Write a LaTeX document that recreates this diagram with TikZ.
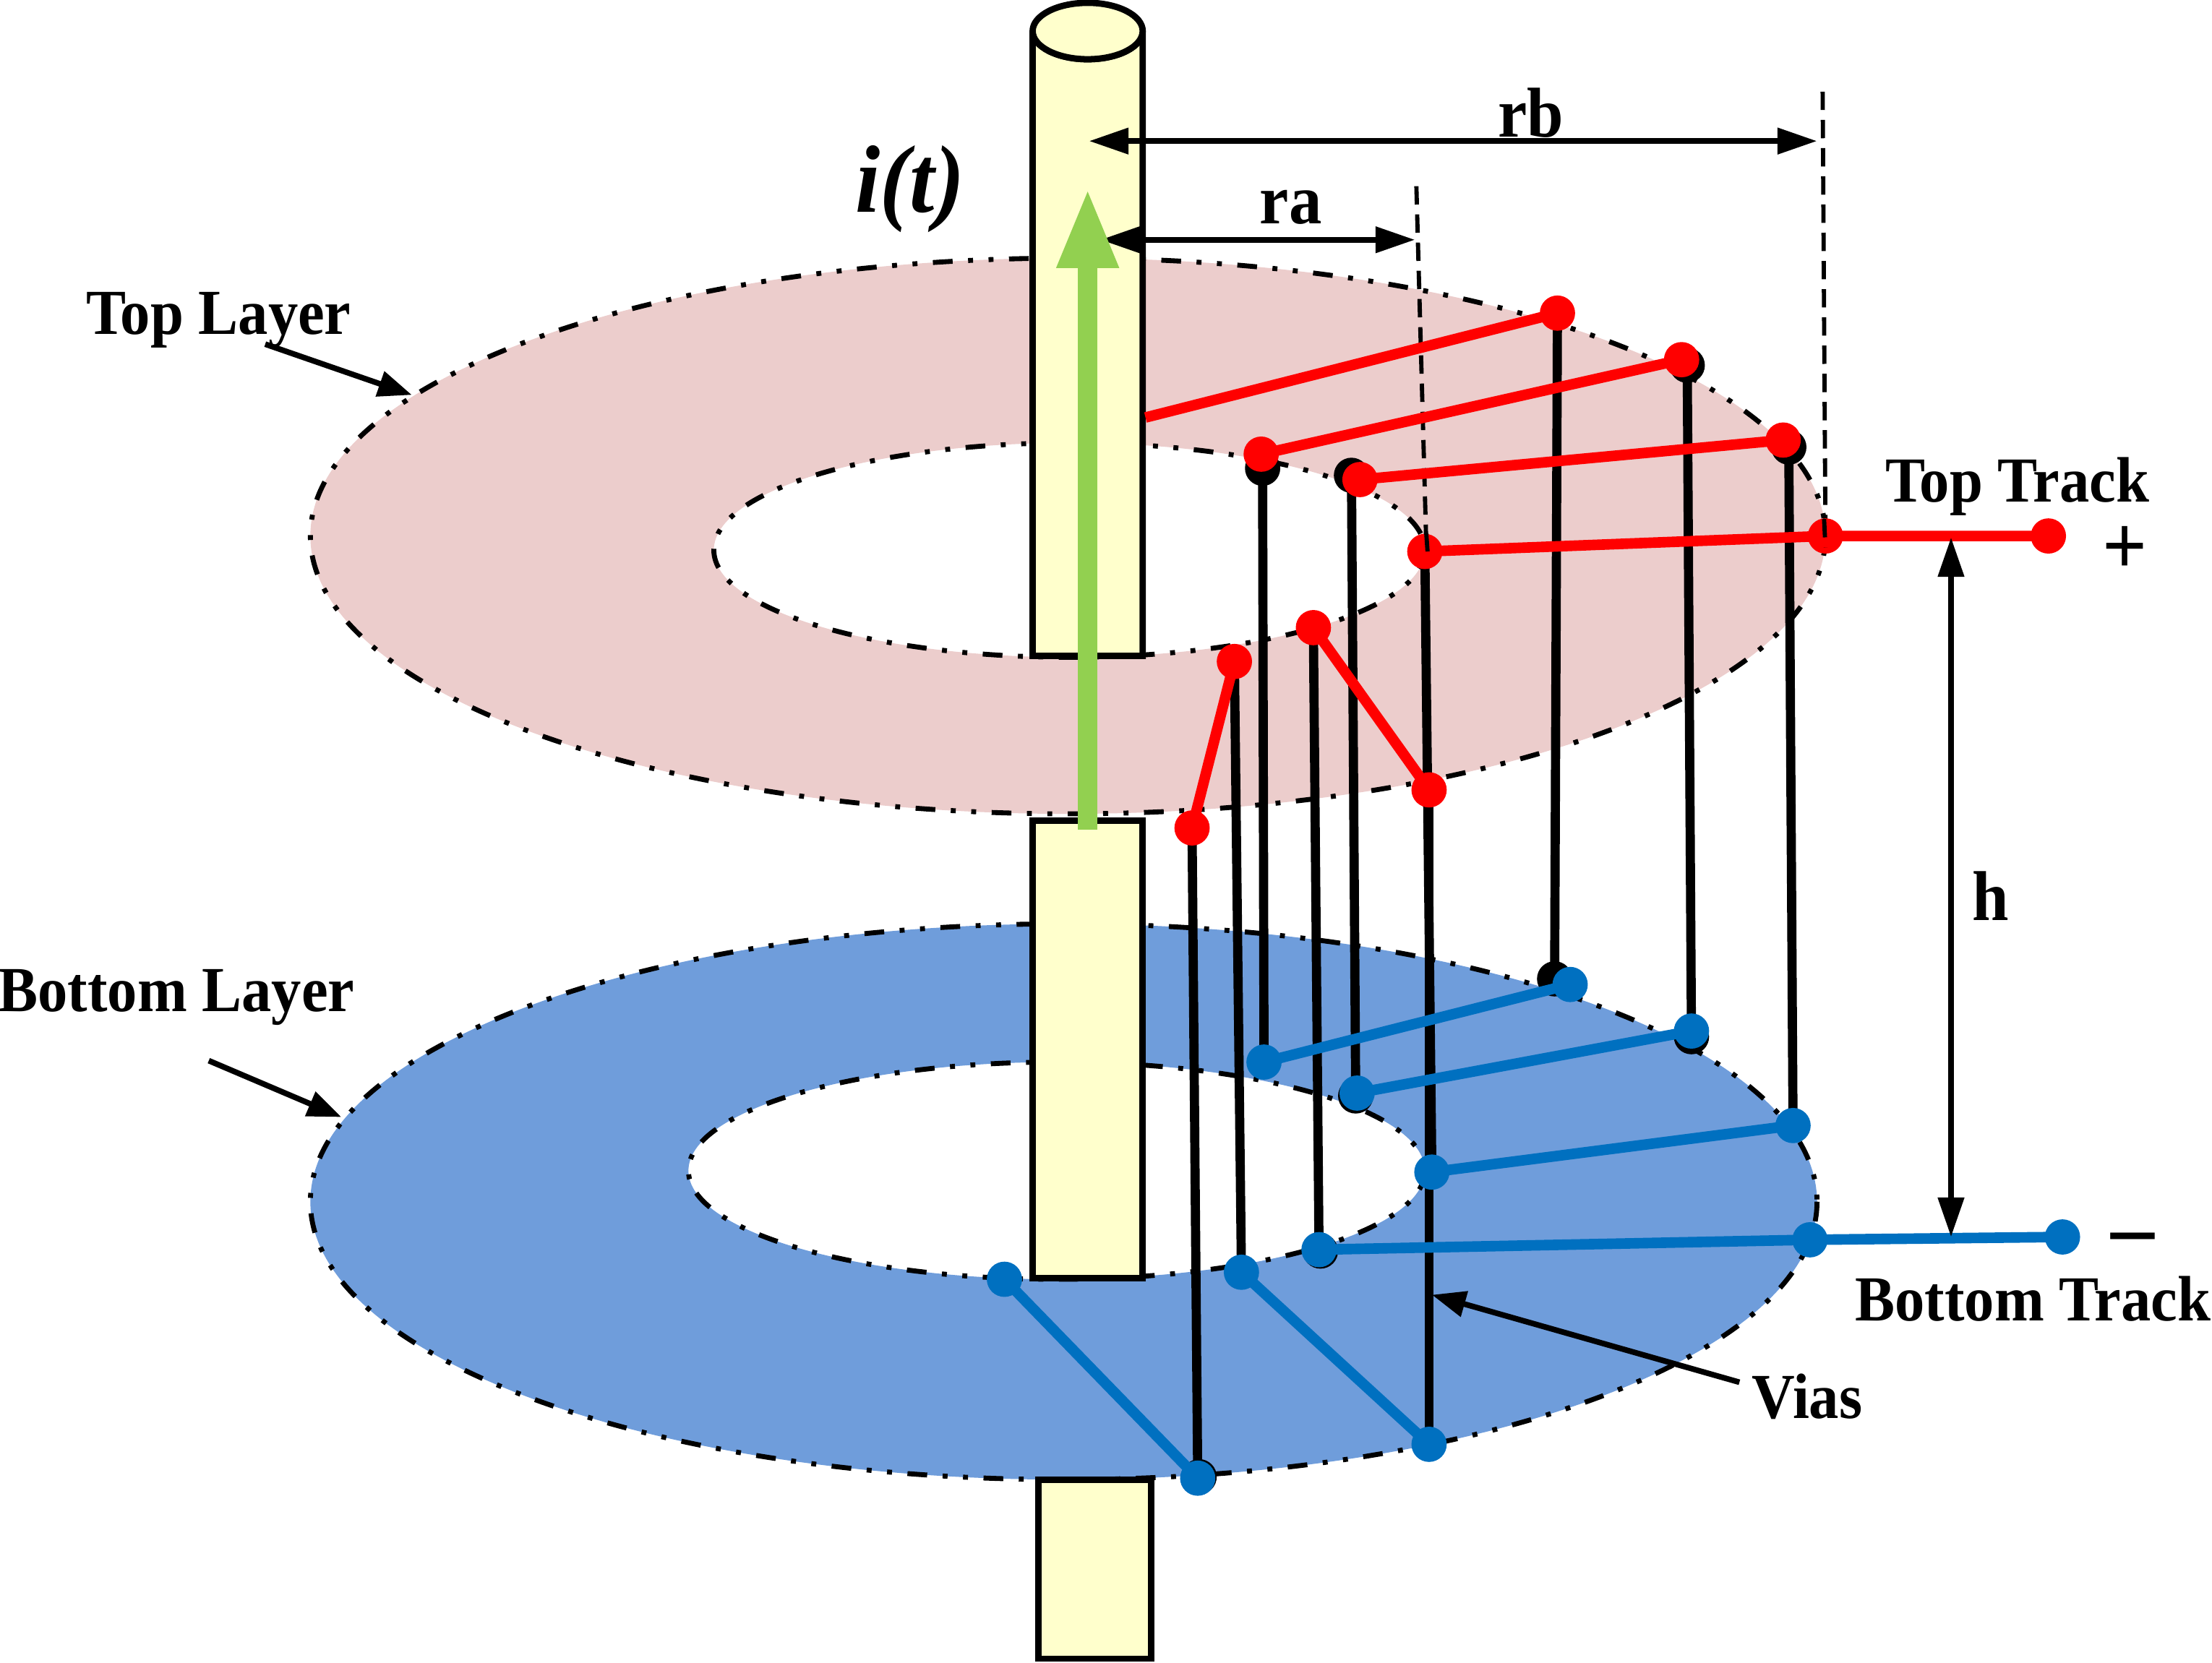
\documentclass[tikz,border=0pt]{standalone}
\usepackage{fontspec}
\setmainfont{Liberation Serif}[FakeStretch=0.93]
\usetikzlibrary{arrows.meta}
\definecolor{ringtop}{HTML}{ECCDCC}
\definecolor{ringbot}{HTML}{6F9DDB}
\definecolor{rod}{HTML}{FFFFCC}
\definecolor{trackblue}{HTML}{0070C0}
\definecolor{currentgreen}{HTML}{92D050}
\tikzset{
  ringline/.style={draw=black,line width=3.5pt,dash pattern=on 14pt off 11pt on 3.5pt off 11pt on 3.5pt off 11pt},
  rodbody/.style={draw=black,fill=rod,line width=4.5pt,line join=miter},
  via/.style={draw=black,line width=6.5pt},
  redtrack/.style={draw=red,line width=7.5pt},
  bluetrack/.style={draw=trackblue,line width=7.5pt},
  blackdot/.style={circle,fill=black,minimum size=25pt,inner sep=0pt},
  reddot/.style={circle,fill=red,minimum size=25pt,inner sep=0pt},
  bluedot/.style={circle,fill=trackblue,minimum size=25pt,inner sep=0pt},
  dim/.style={draw=black,line width=4pt,{Triangle[length=28pt,width=18pt]}-{Triangle[length=28pt,width=18pt]}},
  leader/.style={draw=black,line width=4pt,-{Triangle[length=24pt,width=18pt]}},
  guide/.style={draw=black,line width=3pt,dash pattern=on 13pt off 7pt},
  lab/.style={font=\fontsize{45.5}{50}\selectfont\bfseries,inner sep=0pt},
}
\begin{document}
\begin{tikzpicture}[x=1pt,y=-1pt]
\useasboundingbox (0,0) rectangle (1568,1178.6);
% top-layer track points
\coordinate (T1) at (1104,222);
\coordinate (T1s) at (812,296);
\coordinate (T2a) at (894,322);
\coordinate (T2b) at (1192,255);
\coordinate (T3a) at (964,340);
\coordinate (T3b) at (1264,312);
\coordinate (T4a) at (1010,391);
\coordinate (T4b) at (1294,380);
\coordinate (Tend) at (1452,380);
\coordinate (T5a) at (875,469);
\coordinate (T5b) at (845,587);
\coordinate (T6a) at (931,445);
\coordinate (T6b) at (1013,560);
% black via heads
\coordinate (K2a) at (895,332);
\coordinate (K2b) at (1196,259);
\coordinate (K3a) at (958,337);
\coordinate (K3b) at (1268,317);
\coordinate (K1b) at (1102,694);
\coordinate (K4) at (1199,735);
\coordinate (K5) at (961,777);
% bottom-layer track points
\coordinate (B1a) at (896,753);
\coordinate (B1b) at (1113,698);
\coordinate (B2a) at (962,775);
\coordinate (B2b) at (1199,731);
\coordinate (B3a) at (1015,831);
\coordinate (B3b) at (1271,798);
\coordinate (B4a) at (935,886);
\coordinate (B4b) at (1283,879);
\coordinate (Bend) at (1462,877);
\coordinate (B5a) at (712,907);
\coordinate (B5b) at (849,1048);
\coordinate (B6a) at (880,902);
\coordinate (B6b) at (1013,1024);
% top ring
\fill[ringtop,even odd rule] (757,380) ellipse [x radius=537,y radius=197] (758,390) ellipse [x radius=252,y radius=76];
\path[ringline] (757,380) ellipse [x radius=537,y radius=197];
\path[ringline] (758,390) ellipse [x radius=252,y radius=76];
% upper rod
\draw[rodbody] (732,22) -- (732,465) -- (810,465) -- (810,22) arc [start angle=0,end angle=-180,x radius=39,y radius=-20] -- cycle;
\draw[rodbody] (771,22) ellipse [x radius=39,y radius=20];
% bottom ring
\fill[ringbot,even odd rule] (754,852) ellipse [x radius=534,y radius=197] (749,830) ellipse [x radius=261,y radius=77];
\path[ringline] (754,852) ellipse [x radius=534,y radius=197];
\path[ringline] (749,830) ellipse [x radius=261,y radius=77];
% lower rods
\draw[rodbody] (732,582) rectangle (810,906);
\draw[rodbody] (736,1049) rectangle (816,1176);
% dimension guides and arrows
\coordinate (GAtop) at (1004,132);
\coordinate (GBtop) at (1292,65);
\path[guide] (GAtop) -- (1011,385);
\path[guide] (GBtop) -- (1294,380);
\coordinate (RAl) at (780,170);
\coordinate (RAr) at (1003,170);
\coordinate (RBl) at (772,100);
\coordinate (RBr) at (1288,100);
\path[dim] (RAl) -- (RAr);
\path[dim] (RBl) -- (RBr);
% current arrow
\coordinate (Cb) at (771,588);
\coordinate (Ct) at (771,133);
\path[draw=currentgreen,line width=14pt,-{Triangle[length=57pt,width=40pt,fill=currentgreen]}] (Cb) -- (Ct);
% vias
\path[via] (T1) -- (K1b);
\path[via] (K2b) -- (K4);
\path[via] (K3b) -- (1271,798);
\path[via] (K2a) -- (B1a);
\path[via] (K3a) -- (K5);
\path[via] (T4a) -- (B3a);
\path[via] (T6b) -- (B6b);
\path[via] (T5a) -- (B6a);
\path[via] (T6a) -- (B4a);
\path[via] (T5b) -- (B5b);
\foreach \n in {K2a,K2b,K3a,K3b,K1b,K4,K5} \node[blackdot] (dot\n) at (\n) {};
\node[blackdot] (dotB5b) at (850,1047) {};
\node[blackdot] (dotB4a) at (936,887) {};
% top tracks
\path[redtrack] (T1s) -- (T1);
\path[redtrack] (T2a) -- (T2b);
\path[redtrack] (T3a) -- (T3b);
\path[redtrack] (T4a) -- (T4b) -- (Tend);
\path[redtrack] (T5a) -- (T5b);
\path[redtrack] (T6a) -- (T6b);
\foreach \n in {T1,T2a,T2b,T3a,T3b,T4a,T4b,Tend,T5a,T5b,T6a,T6b} \node[reddot] (dot\n) at (\n) {};
\path[guide] (1293,368) -- (1294,388);
\path[guide] (1011,378) -- (1012,392);
% bottom tracks
\path[bluetrack] (B1a) -- (B1b);
\path[bluetrack] (B2a) -- (B2b);
\path[bluetrack] (B3a) -- (B3b);
\path[bluetrack] (B4a) -- (B4b) -- (Bend);
\path[bluetrack] (B5a) -- (B5b);
\path[bluetrack] (B6a) -- (B6b);
\foreach \n in {B1a,B1b,B2a,B2b,B3a,B3b,B4a,B4b,Bend,B5a,B5b,B6a,B6b} \node[bluedot] (dot\n) at (\n) {};
% height arrow
\coordinate (Ht) at (1383,381);
\coordinate (Hb) at (1383,877);
\path[dim] (Ht) -- (Hb);
% labels
\node[lab] (toplayer) at (155,227) {Top Layer};
\node[lab] (botlayer) at (125,707) {Bottom Layer};
\node[lab] (toptrack) at (1430,345) {Top Track};
\node[lab] (bottrack) at (1441,921) {Bottom Track};
\node[lab] (vias) at (1281,990) {Vias};
\node[lab,font=\fontsize{50}{54}\selectfont\bfseries] (ralab) at (915,147) {ra};
\node[lab,font=\fontsize{50}{54}\selectfont\bfseries] (rblab) at (1085,80) {rb};
\node[lab,font=\fontsize{50}{54}\selectfont\bfseries] (hlab) at (1411,635) {h};
\node[lab,font=\fontsize{60}{64}\selectfont\bfseries] (plus) at (1506,390) {+};
\node[lab,font=\fontsize{66}{70}\selectfont\bfseries] (minus) at (1512,883) {–};
\node[lab,font=\fontsize{68}{72}\selectfont\bfseries\itshape] (cur) at (645,134) {i(t)};
% leaders
\coordinate (LT) at (188,244);
\coordinate (LTe) at (292,280);
\coordinate (LB) at (148,752);
\coordinate (LBe) at (242,792);
\coordinate (LV) at (1233,980);
\coordinate (LVe) at (1015,918);
\path[leader] (LT) -- (LTe);
\path[leader] (LB) -- (LBe);
\path[leader] (LV) -- (LVe);
\end{tikzpicture}
\end{document}
